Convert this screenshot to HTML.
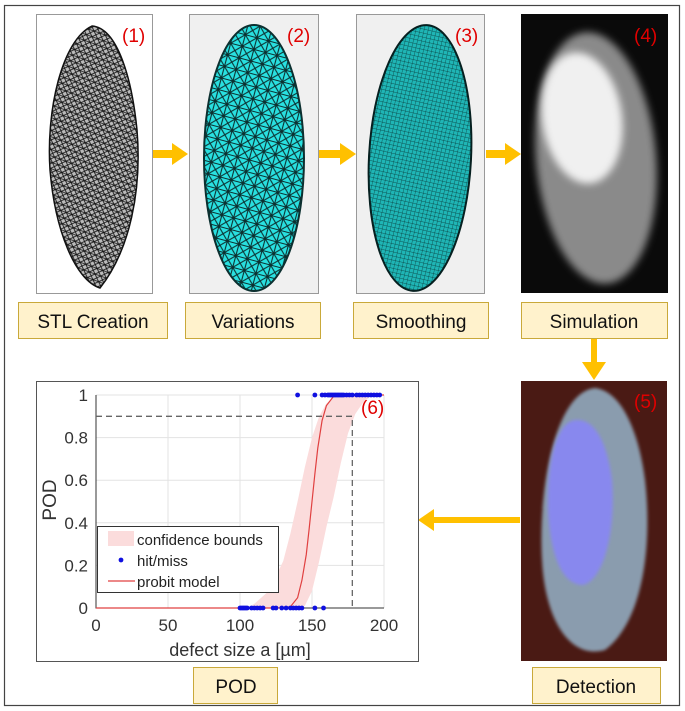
<!DOCTYPE html>
<html><head><meta charset="utf-8"><style>
body{margin:0;background:#fff}
svg{display:block;font-family:"Liberation Sans",sans-serif}
</style></head><body>
<svg width="685" height="711" viewBox="0 0 685 711">
<defs>
<pattern id="mesh1" width="6" height="6" patternUnits="userSpaceOnUse" patternTransform="rotate(20)">
<rect width="6" height="6" fill="#bbb"/><path d="M0 0L6 6M6 0L0 6M0 3H6" stroke="#111" stroke-width="0.8"/></pattern>
<pattern id="mesh2" width="12" height="12" patternUnits="userSpaceOnUse" patternTransform="rotate(15)">
<rect width="12" height="12" fill="#29e0e0"/><path d="M0 0L12 12M12 0L0 12M0 6H12M6 0V12" stroke="#0c3030" stroke-width="1.1"/></pattern>
<pattern id="mesh3" width="4" height="4" patternUnits="userSpaceOnUse" patternTransform="rotate(10)">
<rect width="4" height="4" fill="#1fb5b5"/><path d="M0 0H4M0 0V4" stroke="#083838" stroke-width="0.7"/></pattern>
<filter id="blur"><feGaussianBlur stdDeviation="4"/></filter>
<filter id="blur2"><feGaussianBlur stdDeviation="1.5"/></filter>
</defs>
<rect x="4.5" y="5.5" width="675" height="700" fill="#fff" stroke="#444" stroke-width="1.2"/>

<g>
<rect x="36.5" y="14.5" width="116" height="279" fill="#fff" stroke="#999"/>
<path d="M92 26 C118 28 132 80 137 130 C142 190 130 250 100 288 C75 280 55 230 50 170 C46 110 62 40 92 26Z" fill="url(#mesh1)" stroke="#111" stroke-width="1.5"/>
<text x="122" y="42" fill="#e00000" font-size="19">(1)</text>
</g>
<g>
<rect x="189.5" y="14.5" width="129" height="279" fill="#f0f0f0" stroke="#999"/>
<ellipse cx="254" cy="158" rx="50" ry="133" fill="url(#mesh2)" stroke="#0c3030" stroke-width="2"/>
<text x="287" y="42" fill="#e00000" font-size="19">(2)</text>
</g>
<g>
<rect x="356.5" y="14.5" width="128" height="279" fill="#f0f0f0" stroke="#999"/>
<ellipse cx="420" cy="158" rx="51" ry="133" transform="rotate(3 420 158)" fill="url(#mesh3)" stroke="#062020" stroke-width="2"/>
<text x="455" y="42" fill="#e00000" font-size="19">(3)</text>
</g>
<g>
<rect x="521" y="14" width="147" height="279" fill="#0a0a0a"/>
<ellipse cx="596" cy="158" rx="60" ry="126" transform="rotate(-5 596 158)" fill="#8a8a8a" filter="url(#blur)"/>
<ellipse cx="582" cy="118" rx="40" ry="66" transform="rotate(-8 582 118)" fill="#f0f0f0" filter="url(#blur)"/>
<text x="634" y="42" fill="#e00000" font-size="19">(4)</text>
</g>
<g>
<rect x="521" y="381" width="146" height="280" fill="#4a1a14"/>
<path d="M595 388 C625 392 640 440 645 480 C652 540 645 620 605 650 C570 660 545 620 542 560 C538 490 555 392 595 388Z" fill="#8a9cae" filter="url(#blur2)"/>
<path d="M575 420 C598 418 608 450 612 480 C616 530 604 580 583 585 C560 585 550 550 548 510 C547 465 555 423 575 420Z" fill="#8888ee" filter="url(#blur2)"/>
<text x="634" y="408" fill="#e00000" font-size="19">(5)</text>
</g>

<g font-size="19" fill="#111" text-anchor="middle">
<rect x="18.5" y="302.5" width="149" height="36" fill="#fff2cc" stroke="#c9a93a"/>
<text x="93" y="328">STL Creation</text>
<rect x="185.5" y="302.5" width="135" height="36" fill="#fff2cc" stroke="#c9a93a"/>
<text x="253" y="328">Variations</text>
<rect x="353.5" y="302.5" width="135" height="36" fill="#fff2cc" stroke="#c9a93a"/>
<text x="421" y="328">Smoothing</text>
<rect x="521.5" y="302.5" width="146" height="36" fill="#fff2cc" stroke="#c9a93a"/>
<text x="594" y="328">Simulation</text>
<rect x="193.5" y="667.5" width="84" height="36" fill="#fff2cc" stroke="#c9a93a"/>
<text x="236" y="693">POD</text>
<rect x="532.5" y="667.5" width="128" height="36" fill="#fff2cc" stroke="#c9a93a"/>
<text x="596" y="693">Detection</text>
</g>

<g fill="#ffc000">
<g><rect x="153" y="150" width="20" height="8"/><path d="M172 143L188 154L172 165Z"/></g>
<g><rect x="319" y="150" width="22" height="8"/><path d="M340 143L356 154L340 165Z"/></g>
<g><rect x="486" y="150" width="20" height="8"/><path d="M505 143L521 154L505 165Z"/></g>
<g><rect x="591" y="339" width="6" height="24"/><path d="M582 362L606 362L594 380Z"/></g>
<g><rect x="434" y="517" width="86" height="6"/><path d="M434 509L418 520L434 531Z"/></g>
</g>

<rect x="36.5" y="381.5" width="382" height="280" fill="#fff" stroke="#555"/>
<g id="chart"></g>
<text x="361" y="414" fill="#e00000" font-size="19">(6)</text>
</svg>
<script>
const xTicks=[0,50,100,150,200];
const yTicks=[0,0.2,0.4,0.6,0.8,1];
const yTickLabels=['0','0.2','0.4','0.6','0.8','1'];
const bandUpperA=[90,105,110,120,130,135,140,145,150,155,160,165,170,200];
const bandUpperP=[0,0,0.02,0.08,0.22,0.35,0.5,0.66,0.8,0.9,0.96,0.99,1,1];
const bandLowerA=[90,140,145,150,155,160,165,170,175,180,185,190,195,200];
const bandLowerP=[0,0,0.01,0.08,0.22,0.38,0.52,0.68,0.82,0.91,0.96,0.99,1,1];
const modelA=[0,125,130,135,140,143,146,148,150,152,154,157,160,165,170,200];
const modelP=[0,0,0.001,0.006,0.048,0.13,0.25,0.37,0.5,0.63,0.75,0.88,0.95,0.994,1,1];
const hits=[140,152,157,159,161,162,163,164,165,166,167,168,169,170,171,172,174,176,178,181,183,185,187,189,191,193,195,197];
const misses=[100,101,102,103,104,105,108,110,112,114,116,123,125,129,132,135,137,139,141,143,152,158];
const a90=178, p90=0.9;

const NS='http://www.w3.org/2000/svg';
const g=document.getElementById('chart');
const X=v=>96+v*1.44, Y=v=>608-v*213;
function mk(t,at){const e=document.createElementNS(NS,t);for(const k in at)e.setAttribute(k,at[k]);g.appendChild(e);return e;}
xTicks.forEach(v=>{const e=mk('line',{x1:X(v),x2:X(v),y1:Y(0),y2:Y(1),stroke:'#e3e3e3'});


const t=mk('text',{x:X(v),y:631,'text-anchor':'middle','font-size':17,fill:'#333'});t.textContent=v;

});
yTicks.forEach((v,i)=>{const e=mk('line',{x1:X(0),x2:X(200),y1:Y(v),y2:Y(v),stroke:'#e3e3e3'});


const t=mk('text',{x:88,y:Y(v)+6,'text-anchor':'end','font-size':17,fill:'#333'});t.textContent=yTickLabels[i];

});
let d='M'+bandUpperA.map((a,i)=>X(a)+' '+Y(bandUpperP[i])).join('L');
for(let i=bandLowerA.length-1;i>=0;i--)d+='L'+X(bandLowerA[i])+' '+Y(bandLowerP[i]);
const band=mk('path',{d:d+'Z',fill:'#fbdcdc'});


const ax=mk('path',{d:`M${X(0)} ${Y(1)}V${Y(0)}H${X(200)}`,stroke:'#333',fill:'none'});


const ds=mk('path',{d:`M${X(0)} ${Y(p90)}H${X(a90)}V${Y(0)}`,stroke:'#666','stroke-dasharray':'6 4',fill:'none','stroke-width':1.3});


const m=mk('polyline',{points:modelA.map((a,i)=>X(a)+','+Y(modelP[i])).join(' '),stroke:'#e04040',fill:'none','stroke-width':1.2});


hits.forEach(a=>{const c=mk('circle',{cx:X(a),cy:Y(1),r:2.4,fill:'#1010e0'});

});
misses.forEach(a=>{const c=mk('circle',{cx:X(a),cy:Y(0),r:2.4,fill:'#1010e0'});

});
const yl=mk('text',{x:56,y:500,'font-size':19,fill:'#333','text-anchor':'middle',transform:'rotate(-90 56 500)'});yl.textContent='POD';


const xl=mk('text',{x:240,y:656,'font-size':18,fill:'#333','text-anchor':'middle'});xl.textContent='defect size a [µm]';


const lg=mk('rect',{x:97.5,y:526.5,width:181,height:66,fill:'#fff',stroke:'#333'});


const s1=mk('rect',{x:108,y:531,width:26,height:15,fill:'#fbdcdc'});


const c1=mk('circle',{cx:121,cy:560,r:2.4,fill:'#1010e0'});


const l1=mk('line',{x1:108,x2:135,y1:581,y2:581,stroke:'#e04040','stroke-width':1.2});


[['confidence bounds',545],['hit/miss',566],['probit model',587]].forEach(([t,y])=>{const e=mk('text',{x:137,y:y,'font-size':15,fill:'#222'});e.textContent=t;

});
</script>
</body></html>
